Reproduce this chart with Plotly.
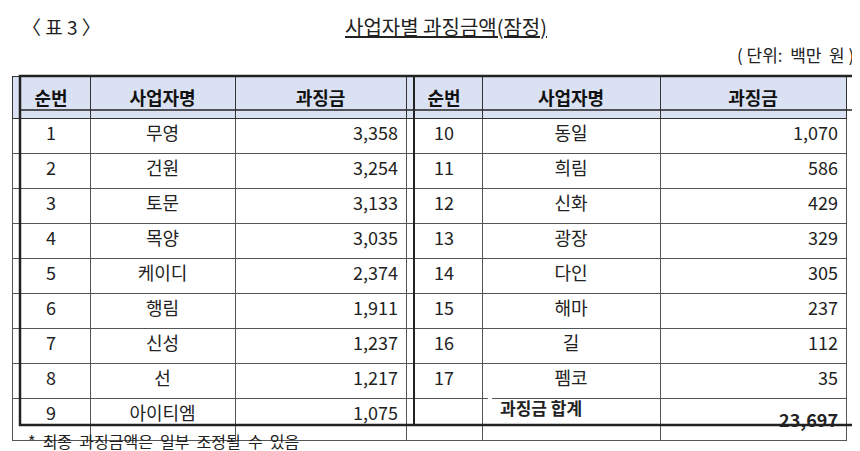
import plotly.graph_objects as go

# 사업자별 과징금액 (잠정), 단위: 백만 원
left_no = ["1", "2", "3", "4", "5", "6", "7", "8", "9"]
left_name = ["무영", "건원", "토문", "목양", "케이디", "행림", "신성", "선", "아이티엠"]
left_amt = [3358, 3254, 3133, 3035, 2374, 1911, 1237, 1217, 1075]
right_no = ["10", "11", "12", "13", "14", "15", "16", "17"]
right_name = ["동일", "희림", "신화", "광장", "다인", "해마", "길", "펨코"]
right_amt = [1070, 586, 429, 329, 305, 237, 112, 35]
total_label = "과징금 합계"
total_amt = 23697
headers = ["순번", "사업자명", "과징금", "순번", "사업자명", "과징금"]

FONT = "Noto Sans CJK KR"
W, H = 860, 451
X0, X1, Y0 = 12, 846, 68
col_w = [78, 145, 171, 76, 178, 186]
SHIFT = 8  # table is drawn a few px right of its domain


def fmt(v):
    return f"{v:,}"


cells = [
    left_no,
    left_name,
    [fmt(v) for v in left_amt],
    right_no + [""],
    right_name + [""],
    [fmt(v) for v in right_amt] + ["<b>" + fmt(total_amt) + "</b>"],
]

fig = go.Figure(go.Table(
    domain=dict(x=[(X0 - SHIFT) / W, (X1 - SHIFT) / W], y=[0, 1 - Y0 / H]),
    columnwidth=col_w,
    header=dict(
        values=["<b>" + h + "</b>" for h in headers],
        fill_color="#dae1f2",
        line=dict(color="#333333", width=1),
        align="center",
        height=34,
        font=dict(family=FONT, size=18, color="#111111"),
    ),
    cells=dict(
        values=cells,
        fill_color="white",
        line=dict(color="#555555", width=1),
        align=["center", "center", "right", "center", "center", "right"],
        height=35,
        font=dict(family=FONT, size=18, color="#222222"),
    ),
))
# invisible trace so that the pixel axes exist for shapes and notes
fig.add_trace(go.Scatter(x=[0, W], y=[0, H], mode="markers", marker=dict(opacity=0),
                         hoverinfo="skip", showlegend=False))

x_div = X0 + sum(col_w[:4])
x_mid = X0 + sum(col_w[:3])
x_end5 = X0 + sum(col_w[:5])
row_top = Y0 + 34 + 35 * 8
bottom = Y0 + 34 + 35 * 9

# merged total cell
fig.add_shape(type="line", x0=x_div, x1=x_div, y0=row_top + 1.5, y1=bottom - 1.5,
              line=dict(color="white", width=4))
fig.add_annotation(x=(x_mid + x_end5) / 2, y=row_top + 17, text="<b>" + total_label + "</b>",
                   showarrow=False, font=dict(family=FONT, size=17, color="#222222"))

# thick outer frame and middle divider
fig.add_shape(type="rect", x0=X0, x1=X1, y0=Y0, y1=bottom, line=dict(color="#222222", width=2.5))
fig.add_shape(type="line", x0=x_mid, x1=x_mid, y0=Y0, y1=bottom, line=dict(color="#222222", width=2))
fig.add_shape(type="line", x0=X0, x1=X1, y0=Y0 + 34, y1=Y0 + 34, line=dict(color="#222222", width=1.5))

fig.add_annotation(x=12, y=18, xanchor="left", text="〈 표 3 〉", showarrow=False,
                   font=dict(family=FONT, size=19, color="#222222"))
fig.add_annotation(x=438, y=18, text="<u>사업자별 과징금액(잠정)</u>", showarrow=False,
                   font=dict(family=FONT, size=20, color="#222222"))
fig.add_annotation(x=848, y=46, xanchor="right", text="( 단위:  백만  원 )", showarrow=False,
                   font=dict(family=FONT, size=17, color="#222222"))
fig.add_annotation(x=18, y=433, xanchor="left", text="*  최종  과징금액은  일부  조정될  수  있음",
                   showarrow=False, font=dict(family=FONT, size=16, color="#222222"))

fig.update_layout(
    width=W, height=H, margin=dict(l=0, r=0, t=0, b=0),
    paper_bgcolor="white", plot_bgcolor="rgba(0,0,0,0)",
    xaxis=dict(range=[0, W], visible=False, fixedrange=True, domain=[0, 1]),
    yaxis=dict(range=[H, 0], visible=False, fixedrange=True, domain=[0, 1]),
)
fig.write_html("out.html")
